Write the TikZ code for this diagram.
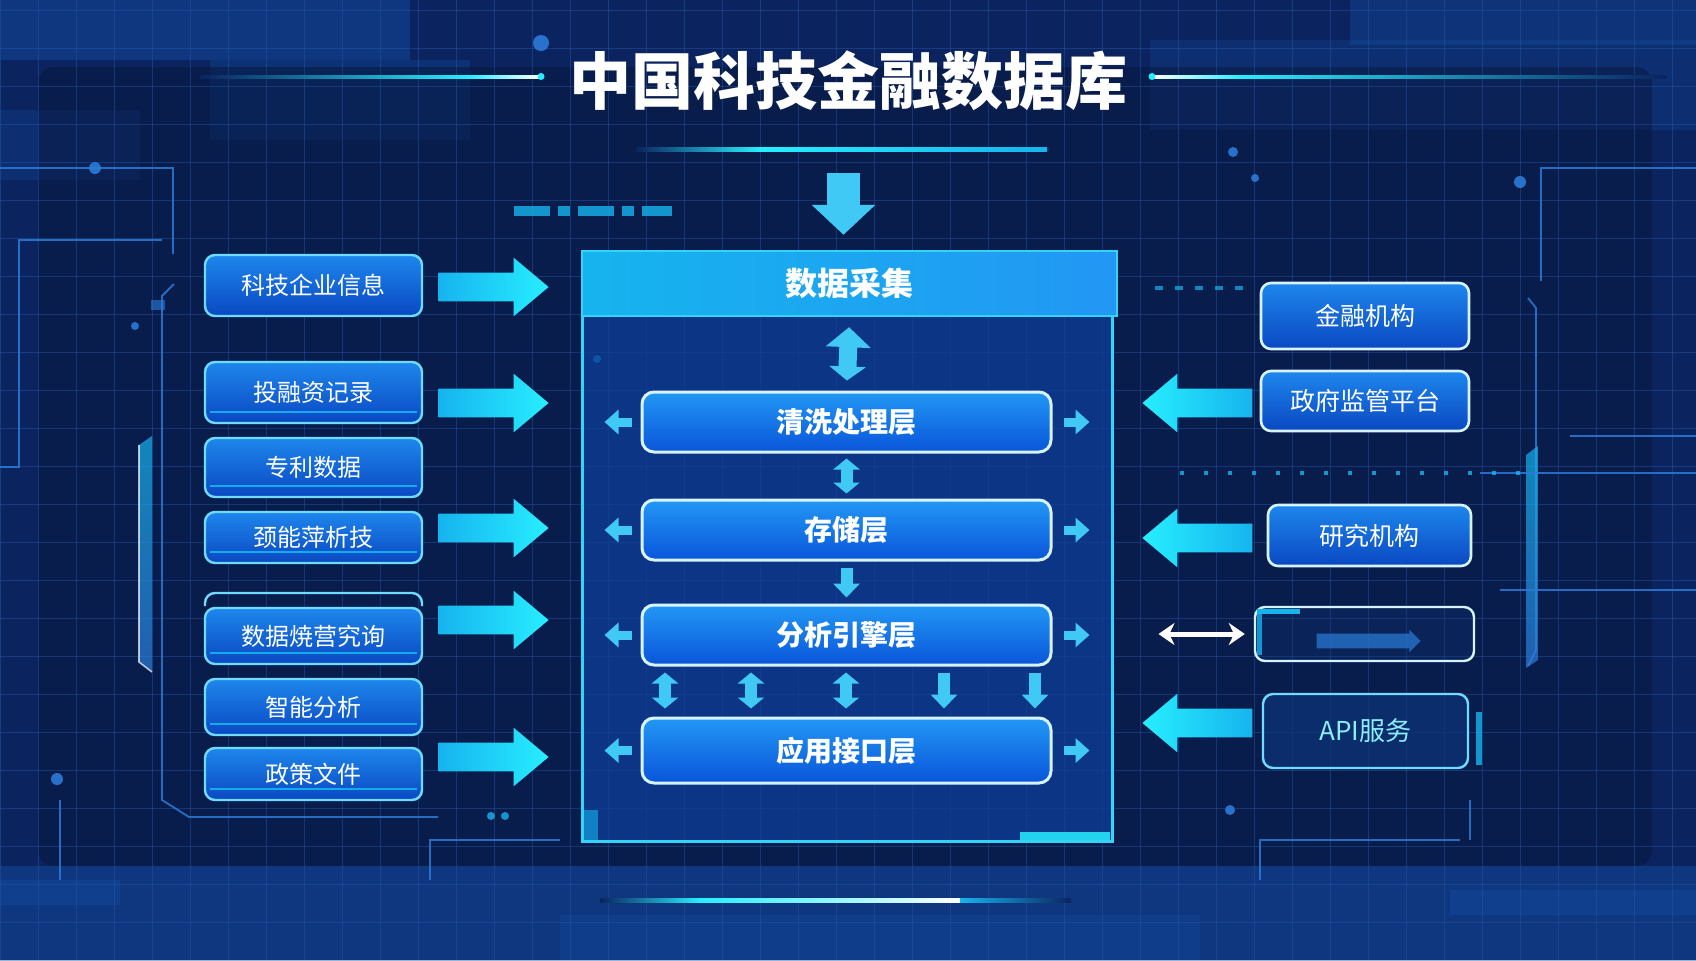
\documentclass[tikz,border=0pt]{standalone}
\usepackage{fontspec}
\newfontfamily\cjk{Noto Sans CJK SC}
\usetikzlibrary{shapes.arrows,arrows.meta,calc}
\definecolor{bgc}{HTML}{0B2460}
\definecolor{panelc}{HTML}{09193F}
\definecolor{bandc}{HTML}{1450A8}
\definecolor{gridc}{HTML}{2457A8}
\definecolor{circc}{HTML}{2C7BD8}
\definecolor{cyanA}{HTML}{27EEFF}
\definecolor{cyanB}{HTML}{16B4EE}
\definecolor{srcTop}{HTML}{1E86EC}
\definecolor{srcBot}{HTML}{0A48C2}
\definecolor{boxedge}{HTML}{6FDCFF}
\definecolor{layTop}{HTML}{2297F4}
\definecolor{layMid}{HTML}{1272EA}
\definecolor{layBot}{HTML}{0A55DA}
\definecolor{layEdge}{HTML}{D6F3FF}
\definecolor{framec}{HTML}{0F3E98}
\definecolor{frameedge}{HTML}{33D4F7}
\definecolor{smallc}{HTML}{3FC9F4}
\definecolor{apitext}{HTML}{8CEFFF}
\definecolor{apifill}{HTML}{0E3578}
\begin{document}
\begin{tikzpicture}[x=0.5pt,y=-0.5pt,
  every node/.style={font=\cjk},
  gridline/.style={draw=gridc, line width=0.35pt, opacity=0.45},
  circuit/.style={draw=circc, line width=0.9pt, opacity=0.85},
  srcbox/.style={rectangle, rounded corners=5pt, draw=boxedge, line width=1.2pt,
    top color=srcTop, bottom color=srcBot, minimum width=108.5pt, text=white,
    font=\cjk\fontsize{12}{14}\selectfont},
  layerbox/.style={rectangle, rounded corners=6pt, draw=layEdge, line width=1.5pt,
    top color=layTop, middle color=layMid, bottom color=layBot, minimum width=204.5pt,
    text=white, font=\cjk\bfseries\fontsize{14}{16}\selectfont},
  tgtbox/.style={rectangle, rounded corners=5pt, draw=layEdge, line width=1.3pt,
    top color=srcTop, bottom color=srcBot, minimum width=104pt, text=white,
    font=\cjk\fontsize{12.5}{14}\selectfont},
  bigarrow/.style={single arrow, draw=none, minimum height=55pt, inner xsep=0pt,
    inner ysep=7pt, single arrow head extend=7.5pt, single arrow tip angle=80},
  smallarr/.style={draw=smallc, line width=6pt,
    arrows={Triangle[width=13pt,length=5.5pt]-Triangle[width=13pt,length=5.5pt]}},
  downarr/.style={draw=smallc, line width=6pt, arrows={-Triangle[width=13pt,length=7pt]}},
  sidearr/.style={draw=smallc, line width=4.5pt, arrows={-Triangle[width=12pt,length=7pt]}},
  dot/.style={fill=circc, opacity=0.9}
]
\useasboundingbox (0,0) rectangle (1696,960);
% background
\fill[bgc] (0,0) rectangle (1696,960);
\fill[bandc, opacity=0.45] (0,0) rectangle (410,60);
\fill[bandc, opacity=0.30] (210,60) rectangle (470,140);
\fill[bandc, opacity=0.35] (1350,0) rectangle (1696,45);
\fill[bandc, opacity=0.25] (1150,40) rectangle (1696,130);
\fill[bandc, opacity=0.25] (0,110) rectangle (140,180);
\fill[panelc, rounded corners=8pt, opacity=0.55] (38,67) rectangle (1652,866);
\fill[bandc, opacity=0.45] (0,866) rectangle (1696,960);
\fill[bandc, opacity=0.35] (0,880) rectangle (120,905);
\fill[bandc, opacity=0.35] (1450,890) rectangle (1696,915);
\fill[bandc, opacity=0.25] (560,915) rectangle (1200,960);
% grid
\foreach \gx in {0,38,...,1696} \draw[gridline] (\gx,0) -- (\gx,960);
\foreach \gy in {10,48,...,960} \draw[gridline] (0,\gy) -- (1696,\gy);
% circuit decorations
\draw[circuit] (0,168) -- (173,168) -- (173,254);
\draw[circuit] (162,240) -- (19,240) -- (19,467) -- (0,467);
\draw[circuit] (174,284) -- (162,296) -- (162,800) -- (189,817) -- (438,817);
\fill[circc, opacity=0.6] (151,300) rectangle (165,310);
\shade[top color=cyanB, bottom color=circc, opacity=0.7] (139,445) -- (152,436) -- (152,672) -- (139,662) -- cycle;
\draw[white, opacity=0.7, line width=0.8pt] (139,445) -- (139,662) -- (152,672);
\draw[circuit] (1528,298) -- (1536,308) -- (1536,650) -- (1528,666);
\shade[top color=cyanB, bottom color=circc, opacity=0.7] (1526,455) -- (1538,446) -- (1538,660) -- (1526,668) -- cycle;
\draw[circuit] (1541,281) -- (1541,168) -- (1696,168);
\draw[circuit] (1570,436) -- (1696,436);
\draw[circuit] (1480,473) -- (1696,473);
\draw[circuit] (1500,590) -- (1696,590);
\draw[circuit] (1470,800) -- (1470,840);
\draw[circuit] (60,800) -- (60,880);
\draw[circuit] (1260,880) -- (1260,840) -- (1460,840);
\draw[circuit] (430,880) -- (430,840) -- (560,840);
\fill[dot] (541,43) circle (8);
\fill[dot] (95,168) circle (6);
\fill[dot] (135,326) circle (4);
\fill[dot] (57,779) circle (6);
\fill[dot] (1520,182) circle (6);
\fill[dot] (1233,152) circle (5);
\fill[dot] (1255,178) circle (4);
\fill[dot] (1230,810) circle (5);
\fill[cyanB, opacity=0.8] (597,359) circle (4);
\fill[cyanB, opacity=0.8] (491,816) circle (4);
\fill[cyanB, opacity=0.8] (505,816) circle (4);
% dashed decor
\draw[cyanB, line width=5pt, dash pattern=on 18pt off 4pt on 6pt off 4pt, opacity=0.8] (514,211) -- (672,211);
\draw[cyanB, line width=2pt, dash pattern=on 2pt off 10pt, opacity=0.8] (1180,473) -- (1525,473);
\draw[cyanB, line width=2pt, dash pattern=on 4pt off 6pt, opacity=0.7] (1155,288) -- (1250,288);
% title lines
\shade[left color=bgc, right color=cyanA] (200,75) rectangle (470,78);
\shade[left color=cyanA, right color=white] (470,75) rectangle (540,78);
\fill[cyanA] (541,76.5) circle (3.5);
\shade[left color=white, right color=cyanA] (1152,75) rectangle (1240,78);
\shade[left color=cyanA, right color=bgc] (1240,75) rectangle (1666,78);
\fill[cyanA] (1152,76.5) circle (3.5);
\shade[left color=bgc, right color=cyanA] (636,147) rectangle (760,151);
\shade[left color=cyanA, right color=cyanB] (760,147) rectangle (1047,151);
\shade[left color=bgc, right color=cyanA] (600,898) rectangle (700,902);
\shade[left color=cyanA, right color=white] (700,898) rectangle (960,902);
\shade[left color=cyanB, right color=bgc] (960,898) rectangle (1071,902);
% title
\node[font=\cjk\bfseries\fontsize{31}{36}\selectfont, text=white] (title) at (848,81) {中国科技金融数据库};
% central frame
\node[draw=frameedge, line width=1.5pt, fill=framec, fill opacity=0.75, minimum width=265pt, minimum height=295pt] (frame) at (847,546) {};
\fill[cyanA, opacity=0.85] (1020,832) rectangle (1110,840);
\fill[cyanB, opacity=0.6] (584,810) rectangle (598,840);
\node[rectangle, left color=cyanB, middle color=layMid, right color=layTop, draw=frameedge, line width=1.2pt,
  minimum width=267.5pt, minimum height=32.5pt, text=white, font=\cjk\bfseries\fontsize{16}{18}\selectfont]
  (hdr) at (849.5,283.5) {数据采集};
\node[layerbox, minimum height=30pt] (l1) at (846.5,422) {清洗处理层};
\node[layerbox, minimum height=30pt] (l2) at (846.5,530) {存储层};
\node[layerbox, minimum height=30pt] (l3) at (846.5,635) {分析引擎层};
\node[layerbox, minimum height=32.5pt] (l4) at (846.5,750.5) {应用接口层};
% top incoming arrow
\coordinate (topin) at (843.5,173);
\draw[draw=smallc, line width=16.5pt, arrows={-Triangle[width=31pt,length=15pt]}, shorten >=7.5pt] (topin) -- (topin |- hdr.north);
% internal arrows
\draw[draw=smallc, line width=9pt, arrows={Triangle[width=22pt,length=10pt]-Triangle[width=18pt,length=7pt]},
  shorten <=5pt, shorten >=5pt] (hdr.south) -- (l1.north);
\draw[smallarr, shorten <=2.5pt, shorten >=2.5pt] (l1.south) -- (l2.north);
\draw[downarr, shorten <=3pt, shorten >=3pt] (l2.south) -- (l3.north);
\coordinate (c1) at (665,0);
\coordinate (c2) at (751,0);
\coordinate (c3) at (846,0);
\coordinate (c4) at (944,0);
\coordinate (c5) at (1035,0);
\draw[smallarr, shorten <=3pt, shorten >=4pt] (l3.south -| c1) -- (l4.north -| c1);
\draw[smallarr, shorten <=3pt, shorten >=4pt] (l3.south -| c2) -- (l4.north -| c2);
\draw[smallarr, shorten <=3pt, shorten >=4pt] (l3.south -| c3) -- (l4.north -| c3);
\draw[downarr, shorten <=3pt, shorten >=4pt] (l3.south -| c4) -- (l4.north -| c4);
\draw[downarr, shorten <=3pt, shorten >=4pt] (l3.south -| c5) -- (l4.north -| c5);
\foreach \l in {l1,l2,l3,l4}{
  \draw[sidearr, shorten <=4.5pt, shorten >=12pt] (\l.west) -- (frame.west |- \l.west);
  \draw[sidearr, shorten <=5.5pt, shorten >=12pt] (\l.east) -- (frame.east |- \l.east);
}
% left source boxes
\node[srcbox, minimum height=30.5pt] (s1) at (313.5,285.5) {科技企业信息};
\node[srcbox, minimum height=30.5pt] (s2) at (313.5,392.5) {投融资记录};
\node[srcbox, minimum height=29.5pt] (s3) at (313.5,467.5) {专利数据};
\node[srcbox, minimum height=25.5pt] (s4) at (313.5,537.5) {颈能萍析技};
\draw[boxedge, line width=1.2pt, rounded corners=5pt] (205,606) -- (205,593) -- (422,593) -- (422,606);
\node[srcbox, minimum height=28pt] (s5) at (313.5,636) {数据焼营究询};
\node[srcbox, minimum height=28pt] (s6) at (313.5,707) {智能分析};
\node[srcbox, minimum height=26pt] (s7) at (313.5,774) {政策文件};
\foreach \s in {s2,s3,s4,s5,s6,s7}
  \draw[cyanB, line width=0.8pt, opacity=0.9] ([xshift=3pt,yshift=6pt]\s.south west) -- ([xshift=-3pt,yshift=6pt]\s.south east);
% left big arrows
\node[bigarrow, left color=cyanB, right color=cyanA] (a1) at (485,287) {};
\node[bigarrow, left color=cyanB, right color=cyanA] (a2) at (485,403) {};
\node[bigarrow, left color=cyanB, right color=cyanA] (a3) at (485,528) {};
\node[bigarrow, left color=cyanB, right color=cyanA] (a4) at (485,620) {};
\node[bigarrow, left color=cyanB, right color=cyanA] (a5) at (485,757) {};
% right target boxes
\node[tgtbox, minimum height=33pt] (t1) at (1365,316) {金融机构};
\node[tgtbox, minimum height=30pt] (t2) at (1365,401) {政府监管平台};
\node[tgtbox, minimum width=101.5pt, minimum height=30.5pt] (t3) at (1369.5,535.5) {研究机构};
\node[rectangle, rounded corners=5pt, draw=layEdge, line width=1.2pt, fill=apifill, fill opacity=0.3,
  minimum width=109.5pt, minimum height=27pt] (t4) at (1364.5,634) {};
\fill[cyanB] (1257,609) rectangle (1300,614);
\fill[cyanB, opacity=0.8] (1257,609) rectangle (1262,655);
\node[single arrow, draw=none, minimum height=52pt, inner xsep=0pt, inner ysep=3.5pt,
  single arrow head extend=2pt, fill=circc, opacity=0.7] (t4a) at (1365,641) {};
\node[rectangle, rounded corners=5pt, draw=boxedge, line width=1.2pt, fill=apifill, fill opacity=0.7, text opacity=1,
  minimum width=102.5pt, minimum height=37pt, text=apitext, font=\cjk\fontsize{13}{15}\selectfont]
  (t5) at (1365.5,731) {API服务};
\fill[cyanB, opacity=0.8] (1476,712) rectangle (1482,765);
% right big arrows (pointing left)
\node[bigarrow, shape border rotate=180, left color=cyanA, right color=cyanB] (b1) at (1206,403) {};
\node[bigarrow, shape border rotate=180, left color=cyanA, right color=cyanB] (b2) at (1206,538) {};
\node[bigarrow, shape border rotate=180, left color=cyanA, right color=cyanB] (b3) at (1206,723) {};
\draw[white, line width=2.5pt, arrows={Stealth[width=11pt,length=8pt]-Stealth[width=11pt,length=8pt]},
  shorten <=22.5pt, shorten >=4.5pt] (frame.east |- t4.west) -- (t4.west);
\end{tikzpicture}
\end{document}
